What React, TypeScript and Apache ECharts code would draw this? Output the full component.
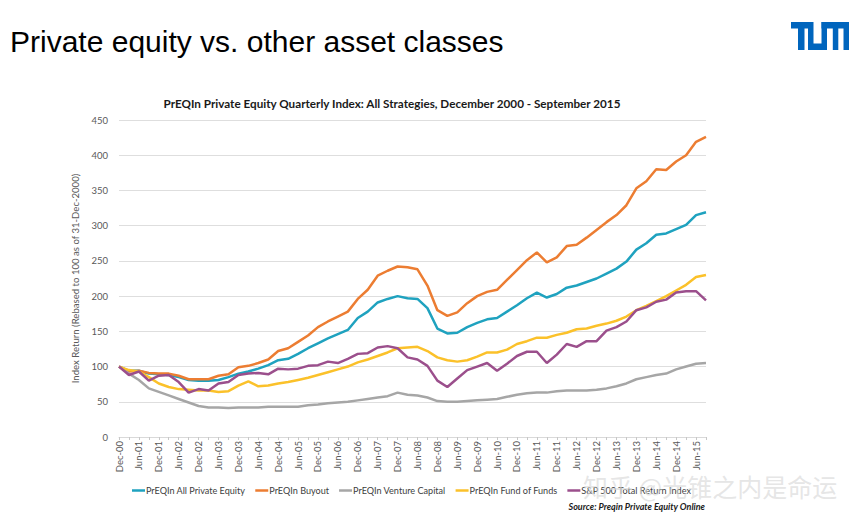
import React, { useEffect, useRef } from "react";
import * as echarts from "echarts";

const quarters = [
  "Dec-00","Mar-01","Jun-01","Sep-01","Dec-01","Mar-02","Jun-02","Sep-02","Dec-02","Mar-03",
  "Jun-03","Sep-03","Dec-03","Mar-04","Jun-04","Sep-04","Dec-04","Mar-05","Jun-05","Sep-05",
  "Dec-05","Mar-06","Jun-06","Sep-06","Dec-06","Mar-07","Jun-07","Sep-07","Dec-07","Mar-08",
  "Jun-08","Sep-08","Dec-08","Mar-09","Jun-09","Sep-09","Dec-09","Mar-10","Jun-10","Sep-10",
  "Dec-10","Mar-11","Jun-11","Sep-11","Dec-11","Mar-12","Jun-12","Sep-12","Dec-12","Mar-13",
  "Jun-13","Sep-13","Dec-13","Mar-14","Jun-14","Sep-14","Dec-14","Mar-15","Jun-15","Sep-15",
];

const allPrivateEquity = [
  100, 94, 94, 90, 89, 88, 85, 81, 80, 80,
  81, 85, 90, 93, 97, 102, 109, 111, 118, 126,
  133, 140, 146, 152, 169, 178, 191, 196, 200, 197,
  196, 183, 154, 147, 148, 156, 162, 167, 169, 178,
  187, 197, 205, 198, 203, 212, 215, 220, 225, 232,
  239, 249, 266, 275, 287, 289, 295, 301, 315, 319,
];

const buyout = [
  100, 93, 94, 91, 90, 90, 87, 82, 82, 82,
  87, 89, 99, 101, 105, 110, 122, 126, 135, 144,
  156, 164, 171, 178, 196, 209, 229, 236, 242, 241,
  238, 215, 180, 172, 177, 190, 200, 206, 209, 223,
  237, 251, 262, 248, 255, 271, 273, 283, 294, 305,
  315, 329, 353, 363, 380, 379, 391, 400, 419, 426,
];

const ventureCapital = [
  100, 90, 81, 69, 64, 59, 54, 49, 44, 42,
  42, 41, 42, 42, 42, 43, 43, 43, 43, 45,
  46, 48, 49, 50, 52, 54, 56, 58, 63, 60,
  59, 56, 51, 50, 50, 51, 52, 53, 54, 57,
  60, 62, 63, 63, 65, 66, 66, 66, 67, 69,
  72, 76, 82, 85, 88, 90, 96, 100, 104, 105,
];

const fundOfFunds = [
  100, 95, 93, 85, 76, 71, 68, 67, 66, 66,
  64, 65, 73, 79, 72, 73, 76, 78, 81, 84,
  88, 92, 96, 100, 106, 110, 115, 120, 126, 127,
  128, 122, 113, 109, 107, 109, 114, 120, 120, 124,
  132, 136, 141, 141, 145, 148, 153, 154, 158, 161,
  165, 171, 180, 186, 193, 200, 208, 216, 227, 230,
];

const sp500 = [
  100, 88, 93, 80, 87, 88, 78, 63, 68, 66,
  76, 78, 88, 90, 91, 89, 97, 96, 97, 101,
  102, 107, 105, 111, 118, 119, 127, 129, 126, 113,
  110, 101, 80, 71, 83, 95, 100, 105, 94, 104,
  115, 121, 121, 105, 117, 132, 128, 136, 136, 151,
  156, 164, 180, 184, 192, 195, 205, 207, 207, 194,
];

const seriesNames = [
  "PrEQIn All Private Equity",
  "PrEQIn Buyout",
  "PrEQIn Venture Capital",
  "PrEQIn Fund of Funds",
  "S&P 500 Total Return Index",
];
const seriesColors = ["#1fa2bf", "#ec7d32", "#a6a6a6", "#fbc12a", "#9b4f8c"];
const seriesData = [allPrivateEquity, buyout, ventureCapital, fundOfFunds, sp500];

export default function App() {
  const ref = useRef<HTMLDivElement>(null);
  useEffect(() => {
    if (!ref.current) return;
    const chart = echarts.init(ref.current, null, { renderer: "svg" });
    chart.setOption({
      animation: false,
      backgroundColor: "#ffffff",
      grid: { left: 119, right: 156, top: 120, bottom: 82, containLabel: false },
      xAxis: {
        type: "category",
        data: quarters,
        boundaryGap: false,
        axisLine: { lineStyle: { color: "#d9d9d9", width: 1 } },
        axisTick: { show: true, interval: 0, length: 3, lineStyle: { color: "#c8c8c8" } },
        axisLabel: {
          interval: 1,
          rotate: 90,
          fontSize: 9.5,
          color: "#595959",
          margin: 4,
          fontFamily: "Lato",
        },
        splitLine: { show: false },
      },
      yAxis: {
        type: "value",
        min: 0,
        max: 450,
        interval: 50,
        name: "Index Return (Rebased to 100 as of 31-Dec-2000)",
        nameLocation: "middle",
        nameGap: 30,
        nameRotate: 90,
        nameTextStyle: { fontSize: 9.6, color: "#595959", fontFamily: "Lato" },
        axisLine: { show: false },
        axisTick: { show: false },
        axisLabel: { fontSize: 9.5, color: "#595959", margin: 11, fontFamily: "Lato" },
        splitLine: { lineStyle: { color: "#dedede", width: 1 } },
      },
      legend: {
        data: seriesNames,
        left: 127,
        top: 481,
        icon: "rect",
        itemWidth: 13,
        itemHeight: 2.5,
        itemGap: 10,
        textStyle: { fontSize: 9.1, color: "#404040", fontFamily: "Lato", padding: [0, 0, 0, -4] },
      },
      series: seriesNames.map((name, k) => ({
        name,
        type: "line",
        data: seriesData[k],
        symbol: "none",
        color: seriesColors[k],
        lineStyle: { width: 2.5, color: seriesColors[k] },
      })),
      graphic: [
        {
          type: "text",
          left: 10,
          top: 26,
          style: {
            text: "Private equity vs. other asset classes",
            fontSize: 30,
            fontFamily: "Liberation Sans, Arial, sans-serif",
            fill: "#000000",
          },
        },
        {
          type: "text",
          x: 392,
          y: 103,
          style: {
            text: "PrEQIn Private Equity Quarterly Index: All Strategies, December 2000 - September 2015",
            fontSize: 11.7,
            fontWeight: "bold",
            fontFamily: "Lato",
            fill: "#1a1a1a",
            textAlign: "center",
            textVerticalAlign: "middle",
          },
        },
        {
          type: "text",
          x: 705,
          y: 506,
          style: {
            text: "Source: Preqin Private Equity Online",
            fontSize: 9,
            fontWeight: "bold",
            fontStyle: "italic",
            fontFamily: "Lato",
            fill: "#1a1a1a",
            textAlign: "right",
            textVerticalAlign: "middle",
          },
        },
        {
          type: "group",
          children: [
            { type: "rect", shape: { x: 791, y: 22, width: 22, height: 6.5 }, style: { fill: "#0065bd" } },
            { type: "rect", shape: { x: 798, y: 22, width: 6.5, height: 28 }, style: { fill: "#0065bd" } },
            { type: "rect", shape: { x: 808, y: 22, width: 5.5, height: 28 }, style: { fill: "#0065bd" } },
            { type: "rect", shape: { x: 808, y: 43.5, width: 19, height: 6.5 }, style: { fill: "#0065bd" } },
            { type: "rect", shape: { x: 821.5, y: 22, width: 5.5, height: 28 }, style: { fill: "#0065bd" } },
            { type: "rect", shape: { x: 821.5, y: 22, width: 27.5, height: 6.5 }, style: { fill: "#0065bd" } },
            { type: "rect", shape: { x: 832.8, y: 22, width: 5.5, height: 28 }, style: { fill: "#0065bd" } },
            { type: "rect", shape: { x: 843.5, y: 22, width: 5.5, height: 28 }, style: { fill: "#0065bd" } },
          ],
        },
        {
          type: "text",
          x: 583,
          y: 486,
          z: 100,
          style: {
            text: "知乎 @光锥之内是命运",
            fontSize: 25,
            fontFamily: "Noto Sans CJK SC",
            fill: "rgba(215,215,215,0.65)",
            textVerticalAlign: "middle",
          },
        },
      ],
    });
    return () => chart.dispose();
  }, []);
  return (
    <div
      ref={ref}
      style={{ position: "absolute", left: 0, top: 0, width: 862, height: 519 }}
    />
  );
}
